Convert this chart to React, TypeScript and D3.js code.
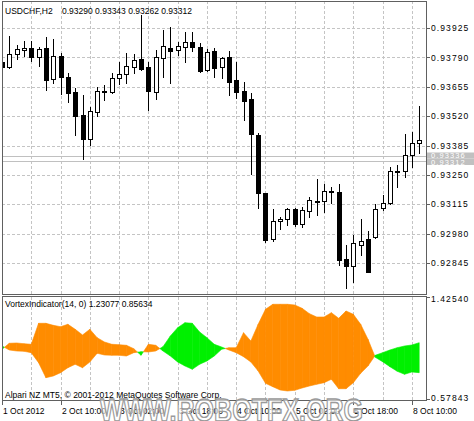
import React from "react";
import * as d3 from "d3";

// ---- Data (USDCHF, H2) ----
const opens = [0.93770,0.93744,0.93806,0.93824,0.93832,0.93793,0.93832,0.93689,0.93796,0.93701,0.93632,0.93525,0.93414,0.93540,0.93630,0.93630,0.93694,0.93714,0.93747,0.93781,0.93744,0.93632,0.93786,0.93834,0.93824,0.93839,0.93859,0.93836,0.93732,0.93821,0.93747,0.93790,0.93686,0.93636,0.93599,0.93433,0.93165,0.92954,0.93039,0.93046,0.93092,0.93024,0.93085,0.93131,0.93131,0.93170,0.93173,0.92862,0.92831,0.92928,0.92954,0.92963,0.93096,0.93119,0.93263,0.93268,0.93341,0.93395];
const highs = [0.93787,0.93888,0.93847,0.93865,0.93865,0.93839,0.93882,0.93873,0.93811,0.93720,0.93648,0.93617,0.93561,0.93653,0.93663,0.93720,0.93770,0.93809,0.93806,0.93985,0.93770,0.93824,0.93916,0.93931,0.93862,0.93907,0.93907,0.93855,0.93827,0.93832,0.93793,0.93821,0.93769,0.93678,0.93625,0.93444,0.93168,0.93093,0.93058,0.93099,0.93096,0.93104,0.93150,0.93230,0.93208,0.93196,0.93208,0.92928,0.92974,0.93047,0.92993,0.93116,0.93157,0.93288,0.93295,0.93438,0.93448,0.93567];
const lows = [0.93732,0.93740,0.93781,0.93796,0.93775,0.93750,0.93640,0.93674,0.93622,0.93586,0.93433,0.93322,0.93387,0.93521,0.93594,0.93628,0.93668,0.93674,0.93720,0.93734,0.93548,0.93597,0.93698,0.93671,0.93801,0.93770,0.93819,0.93724,0.93729,0.93701,0.93694,0.93617,0.93602,0.93502,0.93254,0.93096,0.92943,0.92947,0.93000,0.93020,0.93015,0.93012,0.93058,0.93066,0.93081,0.93119,0.92836,0.92729,0.92759,0.92882,0.92805,0.92958,0.93089,0.93116,0.93193,0.93242,0.93288,0.93352];
const closes = [0.93744,0.93806,0.93827,0.93832,0.93790,0.93827,0.93686,0.93796,0.93701,0.93628,0.93521,0.93414,0.93544,0.93636,0.93636,0.93697,0.93714,0.93752,0.93778,0.93737,0.93637,0.93790,0.93842,0.93821,0.93842,0.93859,0.93836,0.93729,0.93816,0.93740,0.93786,0.93678,0.93632,0.93591,0.93436,0.93165,0.92951,0.93039,0.93046,0.93093,0.93024,0.93089,0.93135,0.93127,0.93176,0.93174,0.92859,0.92831,0.92936,0.92947,0.92805,0.93093,0.93122,0.93269,0.93269,0.93341,0.93395,0.93410];

// Vortex Indicator (14)
const viPlus = [1.0234,0.9891,0.9806,0.9780,0.9661,0.8805,0.7522,0.7667,0.7950,0.8377,0.8668,0.8377,0.8865,0.9609,0.9464,0.9438,0.9438,0.9378,0.9661,0.9746,0.9720,0.9806,1.0174,1.1089,1.1799,1.2227,1.2175,1.1431,1.0944,1.0379,1.0148,0.9891,0.9661,0.9318,0.8865,0.8095,0.7043,0.6752,0.6470,0.6384,0.6444,0.6641,0.6812,0.6957,0.7094,0.7385,0.6581,0.6581,0.7094,0.7898,0.8523,0.9438,0.9661,0.9891,1.0088,1.0234,1.0319,1.0516];
const viMinus = [0.9951,1.0465,1.0490,1.0430,1.0379,1.2175,1.2175,1.2004,1.1885,1.2090,1.1662,1.1175,1.1662,1.0944,1.0576,1.0379,1.0345,1.0293,1.0003,0.9438,1.0379,1.0293,0.9806,0.9378,0.8865,0.8523,0.8241,0.8668,0.8951,0.9378,0.9951,1.0088,1.0088,1.1371,1.0661,1.2090,1.3373,1.3801,1.3801,1.3801,1.3741,1.3458,1.2997,1.2714,1.2714,1.3082,1.2603,1.3228,1.2945,1.2090,1.0807,0.9267,0.8891,0.8463,0.8069,0.7813,0.8010,0.7950];

const priceTicks = [0.93925,0.93790,0.93655,0.93520,0.93385,0.93250,0.93115,0.92980,0.92845];
const indTicks = [1.42540,0.57843];
const timeLabels = ["1 Oct 2012","2 Oct 10:00","3 Oct 02:00","3 Oct 18:00","4 Oct 10:00","5 Oct 02:00","5 Oct 18:00","8 Oct 10:00"];
const timeLabelBars = [0,8,16,24,32,40,48,56];
const bidAsk = [0.93336,0.93312];
const headerValues = ["0.93290","0.93343","0.93262","0.93312"];

const FONT = "'Liberation Sans', Arial, sans-serif";
const ORANGE = "#ff8c00";
const GREEN = "#00f000";

export default function App() {
  const W = 474, H = 421;
  const L = 2, R = 426;
  const mainTop = 1, mainBot = 294;
  const subTop = 296.5, subBot = 400;
  const x = d3.scaleLinear().domain([0, 57]).range([2, 419.2]);
  const y = d3.scaleLinear().domain([0.92845, 0.93925]).range([263, 28]);
  const yi = d3.scaleLinear().domain([0.57843, 1.4254]).range([398, 299]);
  const s = (v: number) => Math.round(v) + 0.5;

  const gridBars = d3.range(4, 58, 4);

  // vortex fill polygons
  const polys: { pts: [number, number][]; color: string }[] = [];
  for (let i = 0; i < viPlus.length - 1; i++) {
    const p0 = viPlus[i], m0 = viMinus[i], p1 = viPlus[i + 1], m1 = viMinus[i + 1];
    const d0 = p0 - m0, d1 = p1 - m1;
    const x0 = x(i), x1 = x(i + 1);
    if (d0 * d1 >= 0) {
      polys.push({
        pts: [[x0, yi(p0)], [x1, yi(p1)], [x1, yi(m1)], [x0, yi(m0)]],
        color: d0 + d1 >= 0 ? GREEN : ORANGE,
      });
    } else {
      const t = d0 / (d0 - d1);
      const xc = x0 + t * (x1 - x0);
      const vc = p0 + t * (p1 - p0);
      polys.push({ pts: [[x0, yi(p0)], [xc, yi(vc)], [x0, yi(m0)]], color: d0 >= 0 ? GREEN : ORANGE });
      polys.push({ pts: [[xc, yi(vc)], [x1, yi(p1)], [x1, yi(m1)]], color: d1 >= 0 ? GREEN : ORANGE });
    }
  }

  return (
    <div style={{ position: "absolute", left: 0, top: 0, width: W, height: H, background: "#fff" }}>
      <svg width={W} height={H} style={{ display: "block" }} fontFamily={FONT}>
        <defs>
          <clipPath id="mainClip"><rect x={L + 1} y={mainTop} width={R - L - 1} height={mainBot - mainTop} /></clipPath>
          <clipPath id="subClip"><rect x={L + 1} y={subTop} width={R - L - 1} height={subBot - subTop} /></clipPath>
        </defs>
        <rect x={0} y={0} width={W} height={H} fill="#fff" />

        {/* grid main */}
        <g stroke="#c4c4c4" strokeDasharray="3,2" shapeRendering="crispEdges">
          {priceTicks.map((t) => (
            <line key={"h" + t} x1={L} x2={R} y1={s(y(t))} y2={s(y(t))} />
          ))}
          {gridBars.map((b) => (
            <line key={"v" + b} x1={s(x(b))} x2={s(x(b))} y1={mainTop} y2={mainBot} />
          ))}
          {gridBars.map((b) => (
            <line key={"vs" + b} x1={s(x(b))} x2={s(x(b))} y1={subTop} y2={subBot} />
          ))}
        </g>

        {/* bid / ask lines */}
        <g stroke="#c0c0c0" shapeRendering="crispEdges">
          {bidAsk.map((p) => (
            <line key={"ba" + p} x1={L} x2={R} y1={s(y(p))} y2={s(y(p))} />
          ))}
        </g>

        {/* candles */}
        <g clipPath="url(#mainClip)" shapeRendering="crispEdges">
          {opens.map((o, i) => {
            const c = closes[i];
            const cx = Math.round(x(i));
            const top = Math.round(y(Math.max(o, c))) + 0.5;
            const bot = Math.round(y(Math.min(o, c))) + 0.5;
            const bear = c < o;
            return (
              <g key={i}>
                <line x1={cx + 0.5} x2={cx + 0.5} y1={Math.round(y(highs[i]))} y2={Math.round(y(lows[i])) + 1} stroke="#000" />
                {bot - top >= 1 ? (
                  <rect x={cx - 1.5} y={top} width={4} height={bot - top} fill={bear ? "#000" : "#fff"} stroke="#000" />
                ) : (
                  <line x1={cx - 2} x2={cx + 3} y1={top} y2={top} stroke="#000" />
                )}
              </g>
            );
          })}
        </g>

        {/* vortex fill */}
        <g clipPath="url(#subClip)">
          {polys.map((p, k) => (
            <polygon key={k} points={p.pts.map((q) => q.join(",")).join(" ")} fill={p.color} stroke={p.color} strokeWidth={0.6} strokeLinejoin="round" />
          ))}
        </g>

        {/* frames */}
        <g fill="none" stroke="#606060" shapeRendering="crispEdges">
          <rect x={L + 0.5} y={mainTop + 0.5} width={R - L} height={mainBot - mainTop} />
          <rect x={L + 0.5} y={subTop} width={R - L} height={subBot - subTop} />
        </g>

        {/* price axis */}
        <g fontSize={8.5} fill="#000">
          {priceTicks.map((t) => (
            <g key={"pt" + t}>
              <line x1={R} x2={R + 4} y1={s(y(t))} y2={s(y(t))} stroke="#606060" shapeRendering="crispEdges" />
              <text x={431} y={y(t) + 3.2} letterSpacing={1.1}>{t.toFixed(5)}</text>
            </g>
          ))}
          {bidAsk.map((p, k) => (
            <g key={"bl" + p}>
              <rect x={427} y={k === 0 ? 152.5 : 158.5} width={47} height={k === 0 ? 6 : 6.5} fill="#c0c0c0" />
              <text x={431} y={k === 0 ? 158.4 : 164.6} fontSize={7.5} fill="#fff" letterSpacing={1.1}>{p.toFixed(5)}</text>
            </g>
          ))}
        </g>

        {/* indicator axis */}
        <g fontSize={8.5} fill="#000">
          <line x1={R} x2={R + 4} y1={297.5} y2={297.5} stroke="#606060" />
          <text x={431} y={302} letterSpacing={1.1}>{indTicks[0].toFixed(5)}</text>
          <line x1={R} x2={R + 4} y1={399.5} y2={399.5} stroke="#606060" />
          <text x={431} y={400.5} letterSpacing={1.1}>{indTicks[1].toFixed(5)}</text>
        </g>

        {/* time axis */}
        <g fontSize={8.5} fill="#000">
          {timeLabels.map((lab, k) => {
            const tx = Math.round(x(timeLabelBars[k]));
            return (
              <g key={lab}>
                <line x1={tx + 0.5} x2={tx + 0.5} y1={subBot} y2={subBot + 5} stroke="#606060" />
                <text x={tx + 1} y={413.5}>{lab}</text>
              </g>
            );
          })}
        </g>

        {/* headers */}
        <g fontSize={8.5} fill="#000">
          <text x={5} y={14}>USDCHF,H2</text>
          <text x={62} y={14}>{headerValues.join(" ")}</text>
          <text x={5} y={306.5}>VortexIndicator(14, 0) 1.23077 0.85634</text>
          <text x={5} y={398}>Alpari NZ MT5, © 2001-2012 MetaQuotes Software Corp.</text>
        </g>

        {/* watermark */}
        <text x={100} y={420.5} fontSize={32} fontWeight="bold" textLength={263} lengthAdjust="spacingAndGlyphs"
          fill="#ffffff" fillOpacity={0.6} stroke="#9a9a9a" strokeWidth={1.4}>WWW.ROBOTFX.ORG</text>
      </svg>
    </div>
  );
}
